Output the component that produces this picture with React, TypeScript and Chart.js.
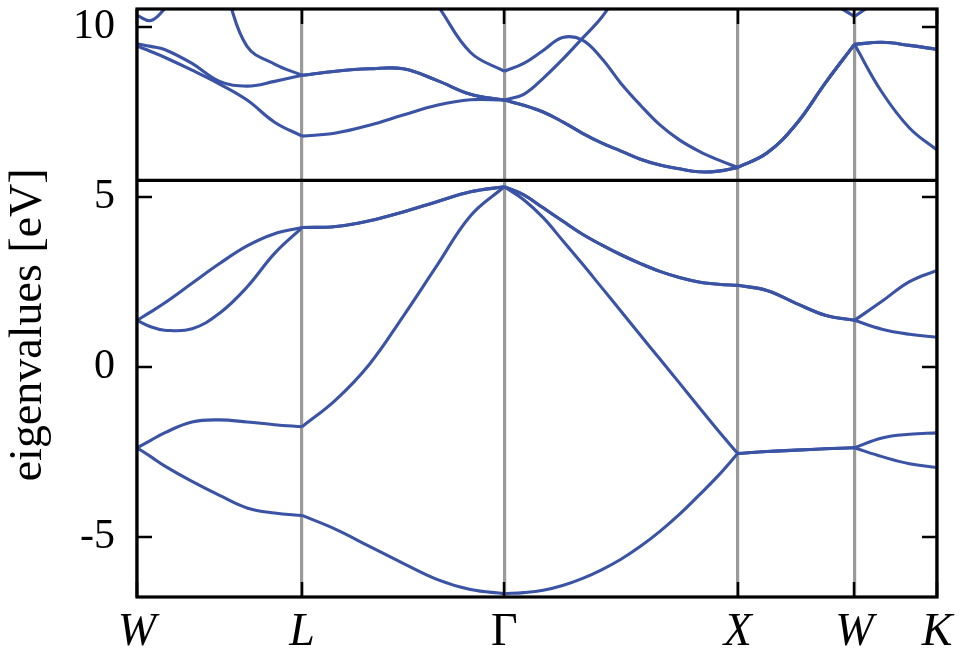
import React, { useEffect, useRef } from 'react';
import { Chart, registerables } from 'chart.js';

Chart.register(...registerables);

// k-path sample positions (units of 2π/a): W-L, L-Γ, Γ-X, X-W, W-K
const kPoints = [
  0, 0.0589, 0.1179, 0.2357, 0.3536, 0.4714, 0.5893, 0.7071,
  0.8514, 0.9958, 1.1401, 1.2845, 1.4288, 1.5731,
  1.6565, 1.7398, 1.8231, 1.9065, 1.9898, 2.0731, 2.1565, 2.2398, 2.3231, 2.4065, 2.4898, 2.5731,
  2.6981, 2.8231, 2.9481, 3.0731,
  3.191, 3.3088, 3.4267,
];
const segmentBreaks = [0, 7, 13, 25, 29, 32];
const symmetryK = [0, 0.7071, 1.5731, 2.5731, 3.0731, 3.4267];
const symmetryLabels = ['W', 'L', 'Γ', 'X', 'W', 'K'];
const yTickValues = [-5, 0, 5, 10];
const yTickLabels = ['-5', '0', '5', '10'];
const gapLineEnergy = 5.48;

const bandV1 = [
  -2.39, -2.65, -2.92, -3.38, -3.79, -4.16, -4.31, -4.38,
  -4.79, -5.29, -5.79, -6.26, -6.56, -6.68,
  -6.65, -6.58, -6.44, -6.24, -5.98, -5.67, -5.29, -4.85, -4.35, -3.79, -3.21, -2.56,
  -2.5, -2.46, -2.42, -2.39,
  -2.65, -2.86, -2.97,
];
const bandV2 = [
  -2.39, -2.17, -1.95, -1.63, -1.57, -1.63, -1.71, -1.77,
  -0.98, 0.07, 1.48, 2.97, 4.44, 5.29,
  4.91, 4.38, 3.71, 3.03, 2.33, 1.63, 0.92, 0.22, -0.48, -1.19, -1.89, -2.56,
  -2.5, -2.46, -2.42, -2.39,
  -2.1, -1.99, -1.95,
];
const bandV3 = [
  1.36, 1.17, 1.07, 1.11, 1.57, 2.34, 3.33, 4.09,
  4.12, 4.29, 4.55, 4.85, 5.14, 5.29,
  5.05, 4.67, 4.28, 3.9, 3.58, 3.29, 3.03, 2.8, 2.62, 2.49, 2.42, 2.39,
  2.24, 1.86, 1.51, 1.36,
  1.1, 0.95, 0.86,
];
const bandV4 = [
  1.36, 1.61, 1.87, 2.45, 3.03, 3.55, 3.91, 4.09,
  4.12, 4.29, 4.55, 4.85, 5.14, 5.29,
  5.05, 4.67, 4.28, 3.9, 3.58, 3.29, 3.03, 2.8, 2.62, 2.49, 2.42, 2.39,
  2.24, 1.86, 1.51, 1.36,
  1.92, 2.5, 2.83,
];
const bandC1 = [
  9.43, 9.27, 9.1, 8.72, 8.31, 7.84, 7.19, 6.78,
  6.87, 7.1, 7.4, 7.69, 7.85, 7.84,
  7.69, 7.49, 7.2, 6.87, 6.58, 6.34, 6.1, 5.93, 5.82, 5.73, 5.75, 5.86,
  6.28, 7.13, 8.34, 9.48,
  8.07, 7.02, 6.37,
];
const bandC2 = [
  9.5, 9.42, 9.33, 8.92, 8.39, 8.25, 8.39, 8.57,
  8.69, 8.76, 8.76, 8.42, 8.01, 7.84,
  7.69, 7.49, 7.2, 6.87, 6.58, 6.34, 6.1, 5.93, 5.82, 5.73, 5.75, 5.86,
  6.28, 7.13, 8.34, 9.48,
  9.54, 9.45, 9.33,
];
const bandC3 = [
  12.6, 12.5, 12.3, 11.9, 11.32, 9.42, 8.9, 8.57,
  8.69, 8.76, 8.76, 8.42, 8.01, 7.84,
  8.01, 8.48, 9.04, 9.65, 10.27, 11.09, 11.76, 12.3, 12.7, 13.0, 13.15, 13.2,
  12.5, 11.6, 10.85, 10.3,
  10.85, 11.4, 11.9,
];
const bandC4 = [
  10.33, 10.18, 10.52, 11.4, 12.2, 12.9, 13.4, 13.7,
  13.6, 13.0, 11.9, 10.65, 9.24, 8.69,
  8.92, 9.3, 9.68, 9.61, 9.07, 8.33, 7.69, 7.11, 6.67, 6.34, 6.08, 5.86,
  6.28, 7.13, 8.34, 9.48,
  9.54, 9.45, 9.33,
];
const bands = [bandV1, bandV2, bandV3, bandV4, bandC1, bandC2, bandC3, bandC4];

const BAND_COLOR = '#3a53a4';
const SERIF = '"Liberation Serif", "DejaVu Serif", serif';

const framePlugin = {
  id: 'frameTicks',
  afterDatasetsDraw(chart: any) {
    const { ctx, chartArea } = chart;
    const { left, right, top, bottom } = chartArea;
    const xs = chart.scales.x;
    const ys = chart.scales.y;
    const len = 15;
    ctx.save();
    ctx.strokeStyle = '#000';
    ctx.lineWidth = 2.5;
    ctx.beginPath();
    ys.ticks.forEach((t: any) => {
      const py = Math.round(ys.getPixelForValue(t.value));
      ctx.moveTo(left, py);
      ctx.lineTo(left + len, py);
      ctx.moveTo(right - len, py);
      ctx.lineTo(right, py);
    });
    xs.ticks.forEach((t: any) => {
      const px = Math.round(xs.getPixelForValue(t.value));
      ctx.moveTo(px, top);
      ctx.lineTo(px, top + len);
      ctx.moveTo(px, bottom - len);
      ctx.lineTo(px, bottom);
    });
    ctx.stroke();
    ctx.lineWidth = 3.2;
    ctx.strokeRect(left, top, right - left, bottom - top);
    ctx.restore();
  },
};

export default function App() {
  const ref = useRef<HTMLCanvasElement>(null);
  useEffect(() => {
    const canvas = ref.current;
    if (!canvas) return;
    const datasets: any[] = [];
    bands.forEach((band) => {
      for (let s = 0; s < segmentBreaks.length - 1; s++) {
        const a = segmentBreaks[s];
        const b = segmentBreaks[s + 1];
        const data: { x: number; y: number }[] = [];
        for (let i = a; i <= b; i++) data.push({ x: kPoints[i], y: band[i] });
        datasets.push({
          data,
          borderColor: BAND_COLOR,
          borderWidth: 3.1,
          pointRadius: 0,
          fill: false,
          tension: 0.4,
        });
      }
    });
    datasets.push({
      data: [
        { x: symmetryK[0], y: gapLineEnergy },
        { x: symmetryK[symmetryK.length - 1], y: gapLineEnergy },
      ],
      borderColor: '#000',
      borderWidth: 3.2,
      pointRadius: 0,
      fill: false,
    });

    const chart = new Chart(canvas, {
      type: 'line',
      data: { datasets },
      options: {
        animation: false,
        responsive: false,
        devicePixelRatio: 1,
        events: [],
        layout: { padding: { left: 0, top: 9, right: 26, bottom: 0 } },
        plugins: { legend: { display: false }, tooltip: { enabled: false } },
        scales: {
          x: {
            type: 'linear',
            min: symmetryK[0],
            max: symmetryK[symmetryK.length - 1],
            afterBuildTicks: (scale: any) => {
              scale.ticks = symmetryK.map((v) => ({ value: v }));
            },
            afterFit: (scale: any) => {
              scale.height = 57;
              scale.paddingLeft = 0;
              scale.paddingRight = 0;
            },
            grid: { display: true, color: '#9a9a9a', lineWidth: 3.2, drawTicks: false, drawOnChartArea: true },
            border: { display: false },
            ticks: {
              autoSkip: false,
              maxRotation: 0,
              minRotation: 0,
              padding: 8,
              color: '#000',
              callback: (_v: any, i: number) => symmetryLabels[i],
              font: (ctx: any) => ({
                family: SERIF,
                size: 46,
                style: symmetryLabels[ctx.index] === 'Γ' ? 'normal' : 'italic',
              }),
            },
          },
          y: {
            type: 'linear',
            min: -6.78,
            max: 10.52,
            afterBuildTicks: (scale: any) => {
              scale.ticks = yTickValues.map((v) => ({ value: v }));
            },
            afterFit: (scale: any) => {
              scale.width = 137;
              scale.paddingTop = 0;
              scale.paddingBottom = 0;
            },
            grid: { display: false, drawTicks: false },
            border: { display: false },
            ticks: {
              padding: 22,
              color: '#000',
              font: { family: SERIF, size: 42 },
              callback: (_v: any, i: number) => yTickLabels[i],
            },
            title: {
              display: true,
              text: 'eigenvalues [eV]   \u2009',
              color: '#000',
              font: { family: SERIF, size: 46 },
              padding: { top: 1, bottom: 0 },
            },
          },
        },
      } as any,
      plugins: [framePlugin],
    });
    return () => chart.destroy();
  }, []);

  return (
    <div style={{ position: 'fixed', left: 0, top: 0, width: 963, height: 654, background: '#fff' }}>
      <canvas ref={ref} width={963} height={654} style={{ display: 'block' }} />
    </div>
  );
}
